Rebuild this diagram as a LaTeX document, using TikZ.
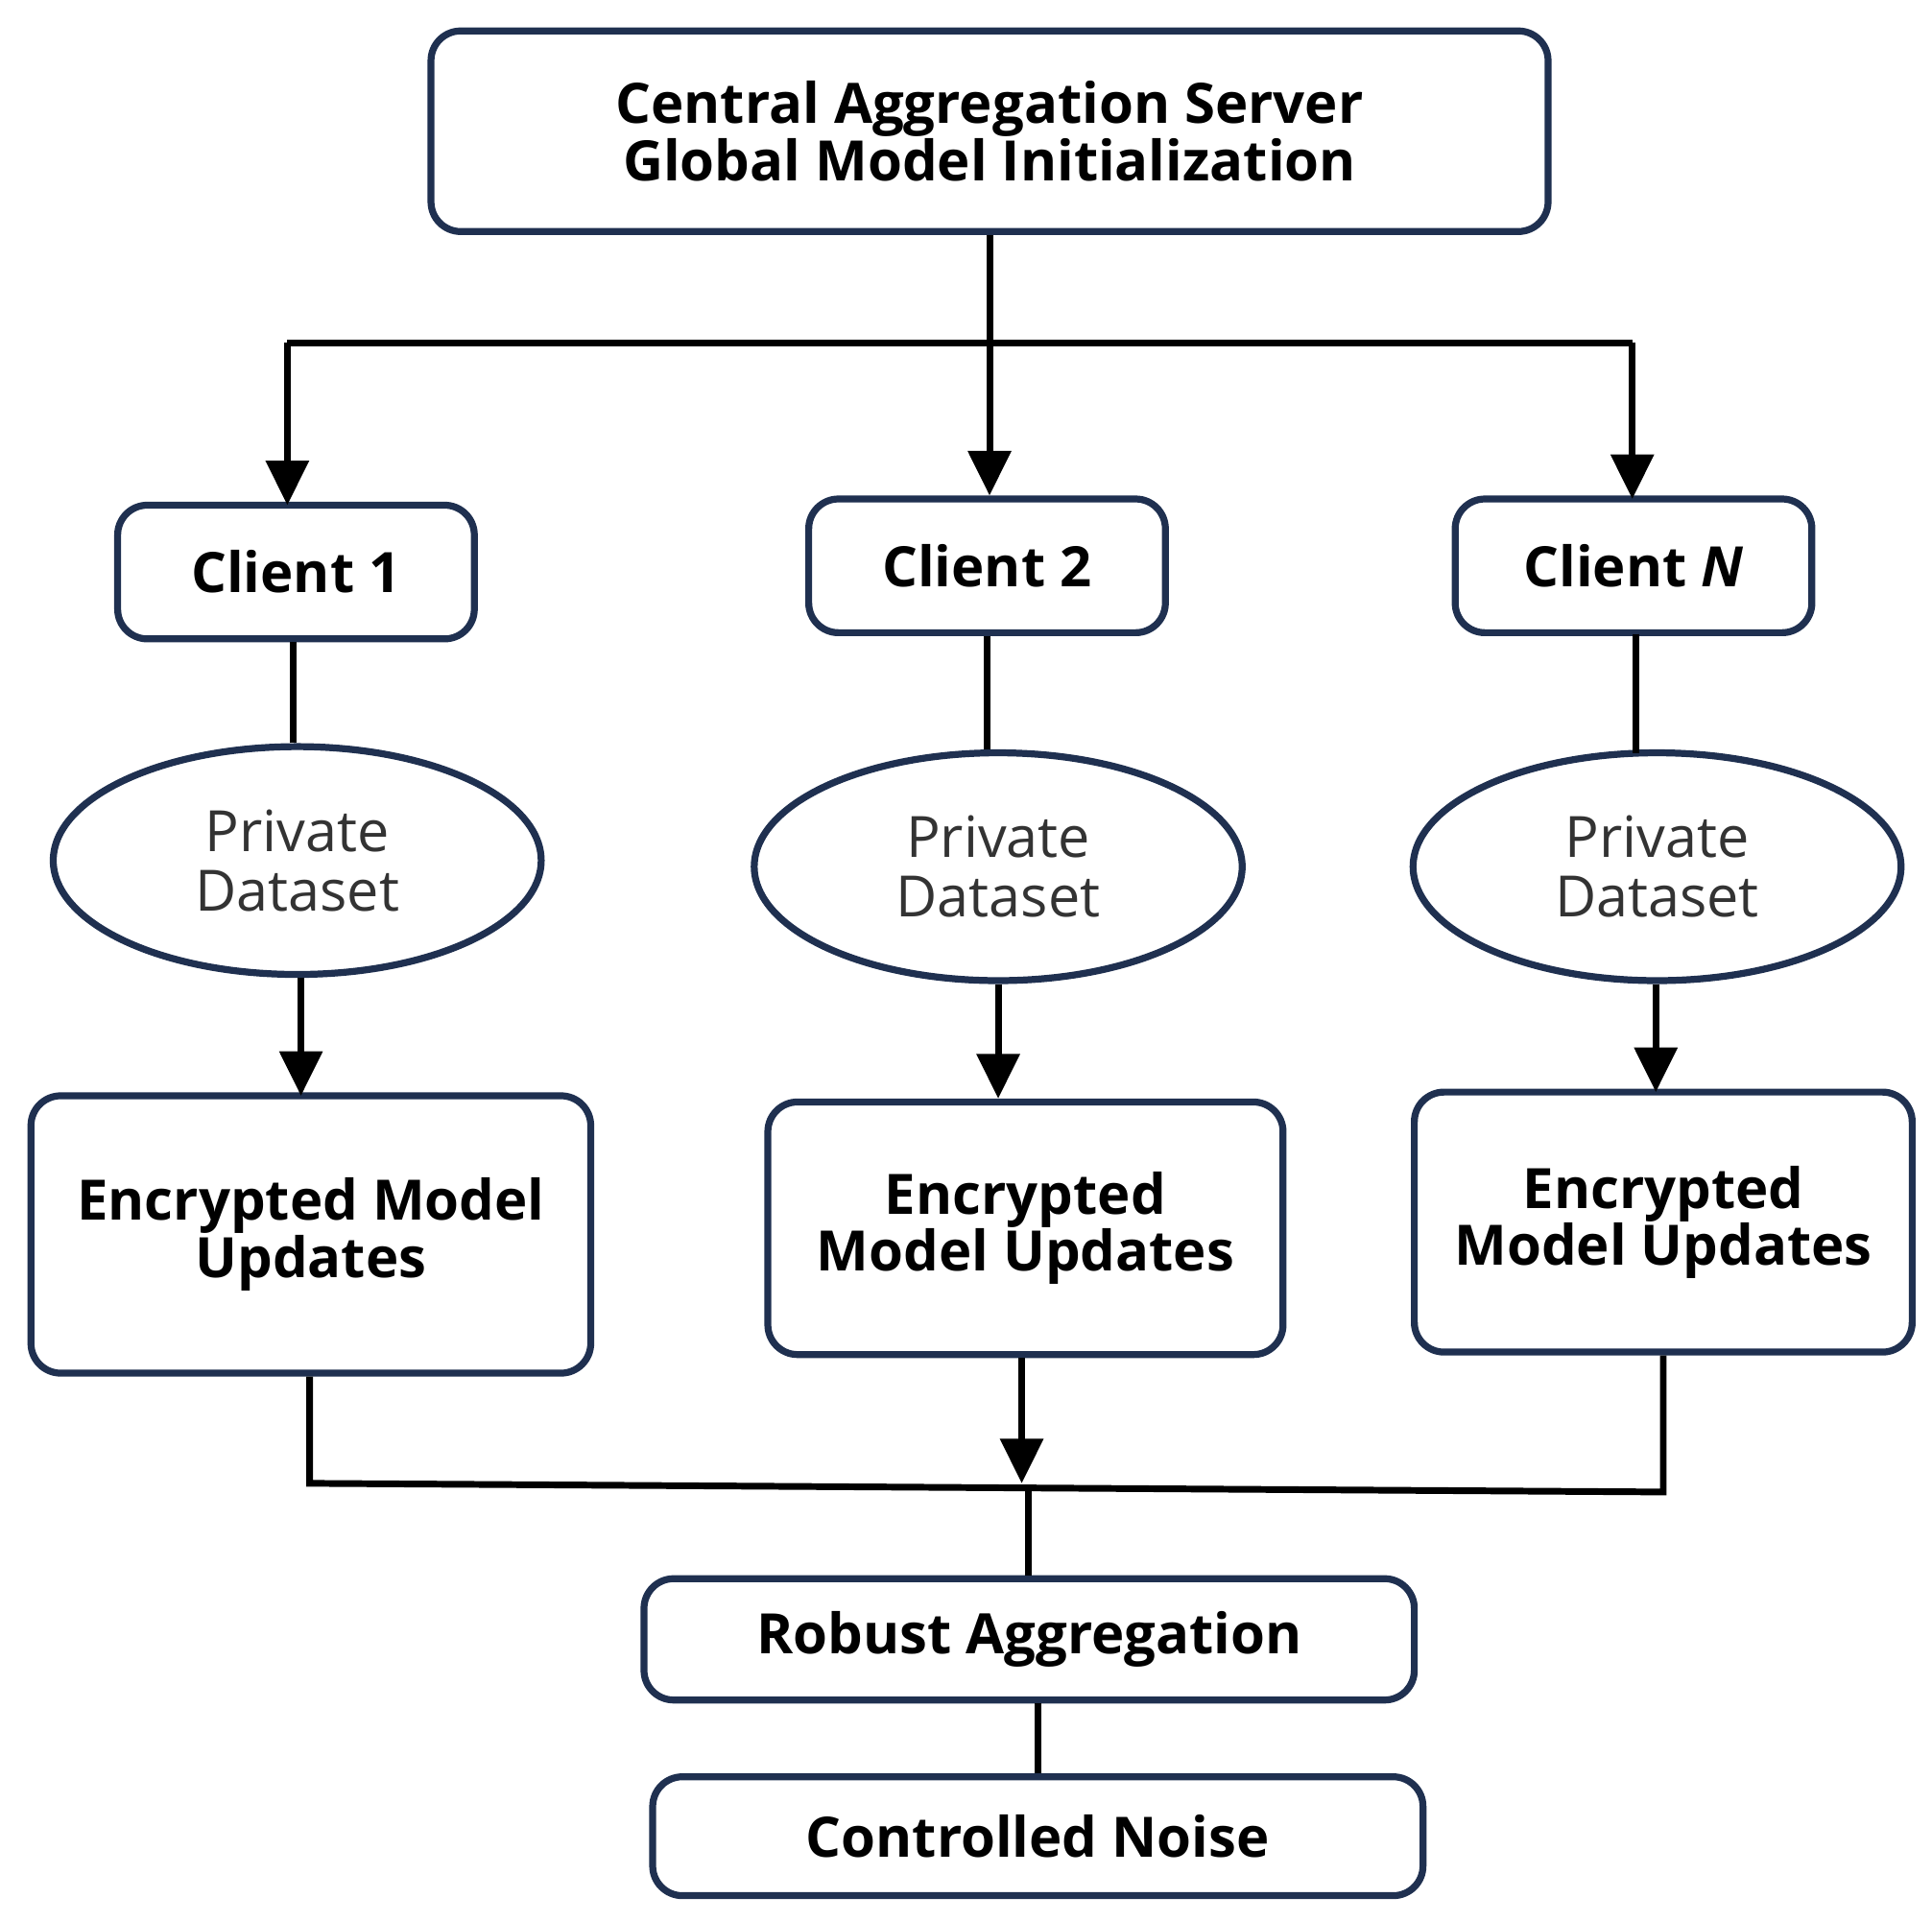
\documentclass[tikz,border=0pt]{standalone}
\usepackage{fontspec}
\setmainfont{Open Sans}
\usetikzlibrary{shapes.geometric,arrows.meta}
\definecolor{navy}{HTML}{1F3050}
\begin{document}
\begin{tikzpicture}[x=0.5pt,y=-0.5pt,
  box/.style={draw=navy,line width=2.8pt,rounded corners=12pt,align=center,font=\fontsize{22.5}{23}\selectfont\bfseries,inner sep=0pt},
  ell/.style={draw=navy,line width=2.8pt,ellipse,inner sep=0pt,minimum width=197pt,minimum height=92pt,align=center,font=\fontsize{23}{24}\selectfont,text=black!80},
  con/.style={line width=2.7pt},
  arr/.style={con,-{Triangle[length=18pt,width=17pt]}}]
\useasboundingbox (0,0) rectangle (1560,1551);
\node[box,minimum width=451pt,minimum height=81pt] (top) at (799,106) {Central Aggregation Server\\Global Model Initialization};
\node[box,minimum width=144pt,minimum height=54pt] (c1) at (239,462) {Client 1};
\node[box,minimum width=144pt,minimum height=54pt] (c2) at (797,457) {Client 2};
\node[box,minimum width=144pt,minimum height=54pt] (cn) at (1319,457) {Client \textit{N}};
\node[ell] (e1) at (240,695) {Private\\Dataset};
\node[ell] (e2) at (806,700) {Private\\Dataset};
\node[ell] (en) at (1338,700) {Private\\Dataset};
\node[box,minimum width=226pt,minimum height=112pt] (u1) at (251,997) {Encrypted Model\\Updates};
\node[box,minimum width=208pt,minimum height=102pt] (u2) at (828,992) {Encrypted\\Model Updates};
\node[box,minimum width=201pt,minimum height=105pt] (un) at (1343,987) {Encrypted\\Model Updates};
\node[box,minimum width=311pt,minimum height=49pt] (ra) at (831,1324) {Robust Aggregation};
\node[box,minimum width=311pt,minimum height=48pt] (cnz) at (838,1483) {Controlled Noise};
\coordinate (sp) at (800,277);
\coordinate (j) at (830,1200);
\draw[arr] (top.south) -- (c2.north -| top.south);
\draw[arr] (232,277) -- (232,408);
\draw[arr] (1318,277) -- (1318,403);
\draw[con] (232,277) -- (1318,277);
\draw[con] (c1.south -| 237,0) -- (e1.north -| 237,0);
\draw[con] (c2.south) -- (e2.north -| c2.south);
\draw[con] (1321,512) -- (1321,608);
\draw[arr] (e1.south -| 243,0) -- (243,885);
\draw[arr] (e2.south) -- (e2.south |- u2.north);
\draw[arr] (en.south -| 1337,0) -- (1337,882);
\draw[con] (u1.south -| 250,0) -- (250,1198) -- (1343,1205) -- (un.south);
\draw[arr] (u2.south -| 825,0) -- (825,1198);
\draw[con] (j) -- (j |- ra.north);
\draw[con] (ra.south -| 838,0) -- (cnz.north -| 838,0);
\end{tikzpicture}
\end{document}
